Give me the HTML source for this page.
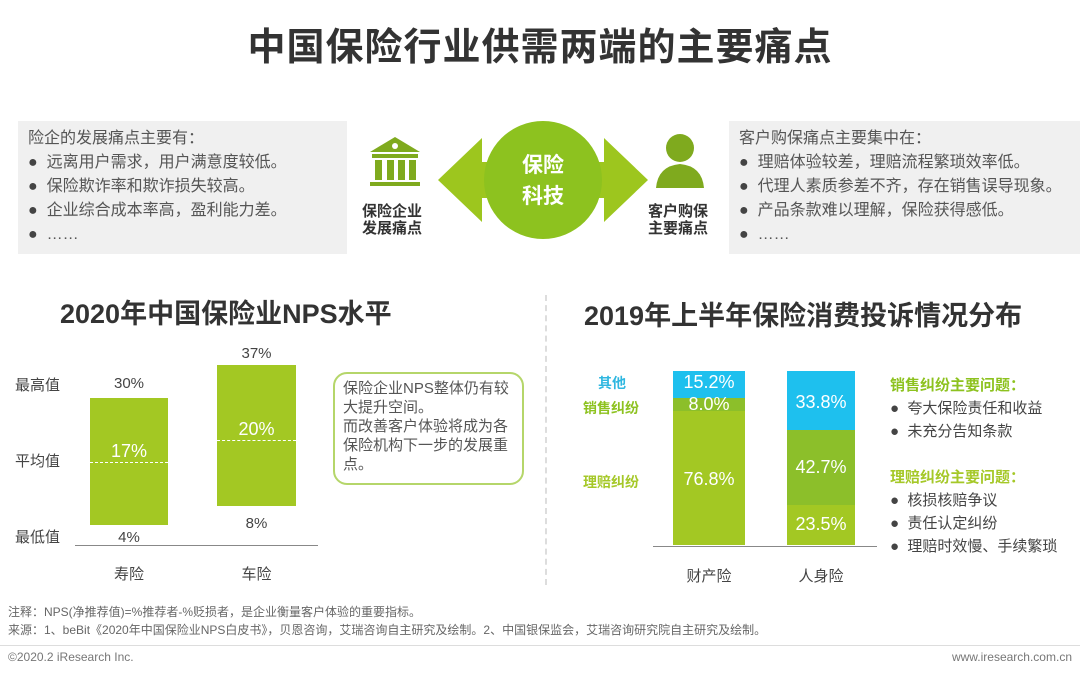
<!DOCTYPE html>
<html><head><meta charset="utf-8"><style>
body{margin:0;width:1080px;height:673px;background:#fff;position:relative;overflow:hidden;font-family:"Liberation Sans","Noto Sans CJK SC",sans-serif;color:#444}
.a{position:absolute;white-space:nowrap}
.box{position:absolute;background:#f0f0f0;font-size:16px;line-height:24px;padding:6px 0 0 10px;box-sizing:border-box;color:#555}
.box i,.lst i{font-style:normal;color:#444}
.b{font-weight:bold}
.w{color:#fff;font-size:18px;text-align:center}
</style></head><body>
<div class="a b" style="left:0;width:1080px;text-align:center;top:16px;font-size:38px;color:#333;letter-spacing:1px">中国保险行业供需两端的主要痛点</div>

<div class="box" style="left:18px;top:121px;width:329px;height:133px">险企的发展痛点主要有：<br><i>●</i>&nbsp; 远离用户需求，用户满意度较低。<br><i>●</i>&nbsp; 保险欺诈率和欺诈损失较高。<br><i>●</i>&nbsp; 企业综合成本率高，盈利能力差。<br><i>●</i>&nbsp; ……</div>
<div class="box" style="left:729px;top:121px;width:351px;height:133px">客户购保痛点主要集中在：<br><i>●</i>&nbsp; 理赔体验较差，理赔流程繁琐效率低。<br><i>●</i>&nbsp; 代理人素质参差不齐，存在销售误导现象。<br><i>●</i>&nbsp; 产品条款难以理解，保险获得感低。<br><i>●</i>&nbsp; ……</div>

<svg class="a" style="left:0;top:0" width="1080" height="300">
<g fill="#7faa1e">
<polygon points="395,137 370,152 420,152"/>
<rect x="372" y="154" width="46" height="4"/>
<rect x="375" y="160" width="7" height="20"/><rect x="387" y="160" width="7" height="20"/><rect x="398" y="160" width="7" height="20"/><rect x="409" y="160" width="7" height="20"/>
<rect x="370" y="182" width="50" height="4"/>
<circle cx="680" cy="148" r="14"/>
<path d="M656,188 Q658,166 680,164 Q702,166 704,188 Z"/>
</g>
<circle cx="395" cy="146" r="3" fill="#fff"/>
<polygon points="438,180 482,138 482,162 604,162 604,138 648,180 604,222 604,198 482,198 482,222" fill="#9dc61e"/>
<circle cx="543" cy="180" r="59" fill="#8dc21f"/>
</svg>
<div class="a b w" style="left:503px;top:150px;width:80px;font-size:21px;line-height:31px">保险<br>科技</div>
<div class="a b" style="left:362px;top:203px;font-size:15px;line-height:17px;color:#333">保险企业<br>发展痛点</div>
<div class="a b" style="left:648px;top:203px;font-size:15px;line-height:17px;color:#333">客户购保<br>主要痛点</div>

<div class="a" style="left:545px;top:295px;height:290px;border-left:2px dashed #ddd"></div>

<div class="a b" style="left:60px;top:292px;font-size:27px;color:#333">2020年中国保险业NPS水平</div>
<div class="a" style="left:15px;top:374px;font-size:15px">最高值</div>
<div class="a" style="left:15px;top:450px;font-size:15px">平均值</div>
<div class="a" style="left:15px;top:526px;font-size:15px">最低值</div>
<div class="a" style="left:90px;top:398px;width:78px;height:127px;background:#a3c823"></div>
<div class="a" style="left:217px;top:365px;width:79px;height:141px;background:#a3c823"></div>
<div class="a" style="left:90px;top:462px;width:78px;border-top:1.5px dashed #fff"></div>
<div class="a" style="left:217px;top:440px;width:79px;border-top:1.5px dashed #fff"></div>
<div class="a w" style="left:90px;top:441px;width:78px">17%</div>
<div class="a w" style="left:217px;top:419px;width:79px">20%</div>
<div class="a" style="left:90px;top:375px;width:78px;text-align:center;font-size:15px">30%</div>
<div class="a" style="left:90px;top:529px;width:78px;text-align:center;font-size:15px">4%</div>
<div class="a" style="left:217px;top:345px;width:79px;text-align:center;font-size:15px">37%</div>
<div class="a" style="left:217px;top:515px;width:79px;text-align:center;font-size:15px">8%</div>
<div class="a" style="left:75px;top:545px;width:243px;border-top:1px solid #888"></div>
<div class="a" style="left:90px;top:563px;width:78px;text-align:center;font-size:15px">寿险</div>
<div class="a" style="left:217px;top:563px;width:79px;text-align:center;font-size:15px">车险</div>
<div class="a" style="left:333px;top:372px;width:191px;height:113px;border:2px solid #b5d66a;border-radius:14px;box-sizing:border-box;padding:5px 8px;font-size:15px;line-height:19px;color:#555;white-space:normal">保险企业NPS整体仍有较大提升空间。<br>而改善客户体验将成为各保险机构下一步的发展重点。</div>

<div class="a b" style="left:584px;top:294px;font-size:27px;color:#333">2019年上半年保险消费投诉情况分布</div>
<div class="a b" style="left:598px;top:373px;font-size:14px;color:#2fb7e0">其他</div>
<div class="a b" style="left:583px;top:398px;font-size:14px;color:#8dc21f">销售纠纷</div>
<div class="a b" style="left:583px;top:472px;font-size:14px;color:#a5c828">理赔纠纷</div>
<div class="a" style="left:673px;top:371px;width:72px;height:27px;background:#1ec0ee"></div>
<div class="a" style="left:673px;top:398px;width:72px;height:13px;background:#8cbf2a"></div>
<div class="a" style="left:673px;top:411px;width:72px;height:134px;background:#a3c823"></div>
<div class="a" style="left:787px;top:371px;width:68px;height:59px;background:#1ec0ee"></div>
<div class="a" style="left:787px;top:430px;width:68px;height:75px;background:#8cbf2a"></div>
<div class="a" style="left:787px;top:505px;width:68px;height:40px;background:#a3c823"></div>
<div class="a w" style="left:673px;top:372px;width:72px">15.2%</div>
<div class="a w" style="left:673px;top:394px;width:72px">8.0%</div>
<div class="a w" style="left:673px;top:469px;width:72px">76.8%</div>
<div class="a w" style="left:787px;top:392px;width:68px">33.8%</div>
<div class="a w" style="left:787px;top:457px;width:68px">42.7%</div>
<div class="a w" style="left:787px;top:514px;width:68px">23.5%</div>
<div class="a" style="left:653px;top:546px;width:224px;border-top:1px solid #888"></div>
<div class="a" style="left:673px;top:565px;width:72px;text-align:center;font-size:15px">财产险</div>
<div class="a" style="left:787px;top:565px;width:68px;text-align:center;font-size:15px">人身险</div>
<div class="a lst" style="left:890px;top:374px;font-size:15px;line-height:23px;color:#444"><span class="b" style="color:#8dc21f">销售纠纷主要问题：</span><br><i>●</i>&nbsp; 夸大保险责任和收益<br><i>●</i>&nbsp; 未充分告知条款</div>
<div class="a lst" style="left:890px;top:466px;font-size:15px;line-height:23px;color:#444"><span class="b" style="color:#a5c828">理赔纠纷主要问题：</span><br><i>●</i>&nbsp; 核损核赔争议<br><i>●</i>&nbsp; 责任认定纠纷<br><i>●</i>&nbsp; 理赔时效慢、手续繁琐</div>

<div class="a" style="left:8px;top:603px;font-size:12px;line-height:18px;color:#666">注释：NPS(净推荐值)=%推荐者-%贬损者，是企业衡量客户体验的重要指标。<br>来源：1、beBit《2020年中国保险业NPS白皮书》，贝恩咨询，艾瑞咨询自主研究及绘制。2、中国银保监会，艾瑞咨询研究院自主研究及绘制。</div>
<div class="a" style="left:0;top:645px;width:1080px;border-top:1px solid #ddd"></div>
<div class="a" style="left:8px;top:650px;font-size:12px;color:#777">©2020.2 iResearch Inc.</div>
<div class="a" style="right:8px;top:650px;font-size:12px;color:#777">www.iresearch.com.cn</div>
</body></html>
